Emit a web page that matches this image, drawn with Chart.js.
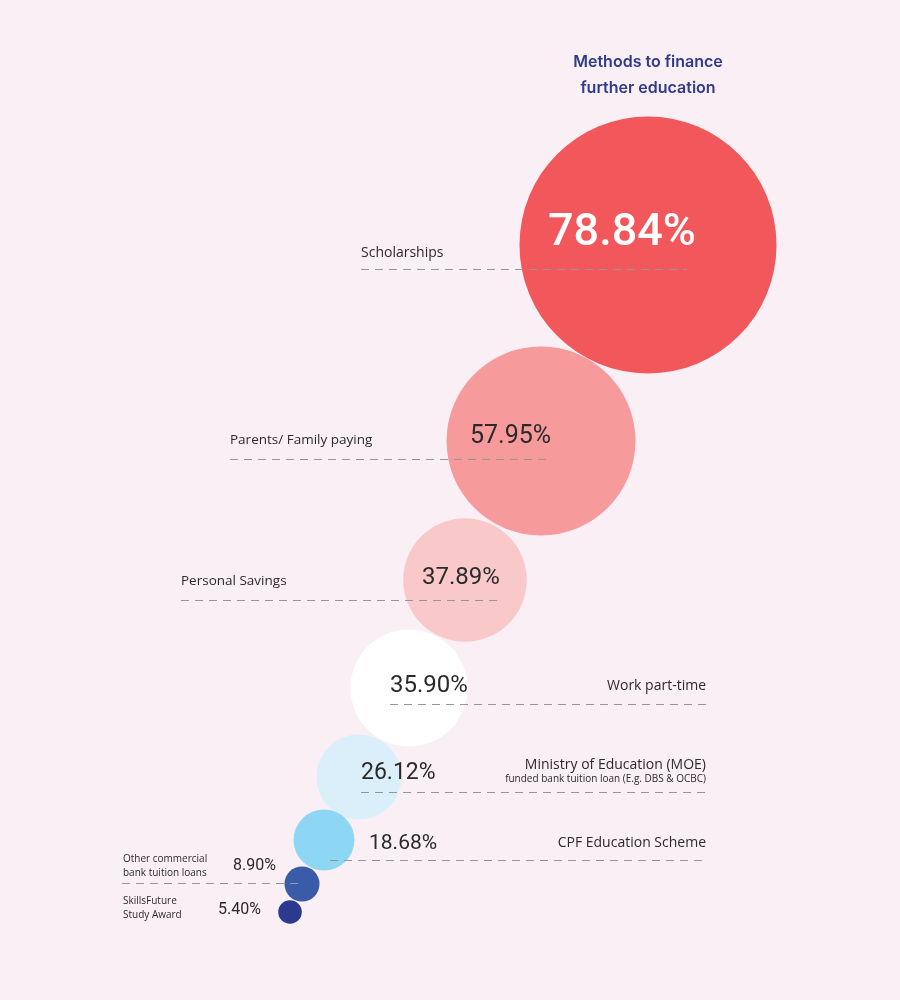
<!DOCTYPE html>
<html>
<head>
<meta charset="utf-8">
<script src="https://cdn.jsdelivr.net/npm/chart.js@4.4.1/dist/chart.umd.min.js"></script>
<style>
  html, body { margin: 0; padding: 0; background: #f9eff4; }
  #wrap { width: 900px; height: 1000px; position: relative; }
</style>
</head>
<body>
<div id="wrap"><canvas id="financeBubbles" width="900" height="1000"></canvas></div>
<script>
// data
const categories = [
  'Scholarships',
  'Parents/ Family paying',
  'Personal Savings',
  'Work part-time',
  'Ministry of Education (MOE) funded bank tuition loan (E.g. DBS & OCBC)',
  'CPF Education Scheme',
  'Other commercial bank tuition loans',
  'SkillsFuture Study Award'
];
const shares = [78.84, 57.95, 37.89, 35.90, 26.12, 18.68, 8.90, 5.40];
// bubble centres in layout units (x: 0-90, y: 0-100 from top)
const xPos = [64.8, 54.1, 46.5, 40.9, 35.9, 32.4, 30.2, 29.0];
const yPos = [24.5, 44.1, 58.0, 68.8, 77.7, 84.0, 88.4, 91.2];
const titleLines = ['Methods to finance', 'further education'];

const colours = ['#f2585b', '#f69a9c', '#f9c9ca', '#ffffff', '#dbeffa', '#8dd7f5', '#3a5ca8', '#2b3a8f'];

// label text, leader lines and percent text placement (layout units)
const labelLines = [
  [['Scholarships', 14]],
  [['Parents/ Family paying', 13.5]],
  [['Personal Savings', 13.5]],
  [['Work part-time', 14]],
  [['Ministry of Education (MOE)', 14], ['funded bank tuition loan (E.g. DBS & OCBC)', 10]],
  [['CPF Education Scheme', 14]],
  [['Other commercial', 10], ['bank tuition loans', 10]],
  [['SkillsFuture', 10], ['Study Award', 10]]
];
const layout = [
  { lx: 36.1, ly: 25.3, align: 'left',  line: [26.9, 36.1, 68.7], px: 54.8, py: 23.4, size: 45, colour: '#ffffff', weight: 500 },
  { lx: 23.0, ly: 44.0, align: 'left',  line: [45.9, 23.0, 54.9], px: 47.0, py: 43.7, size: 25, colour: '#2a2a2a', weight: 400 },
  { lx: 18.1, ly: 58.1, align: 'left',  line: [60.0, 18.1, 49.7], px: 42.2, py: 57.8, size: 24, colour: '#2a2a2a', weight: 400 },
  { lx: 70.6, ly: 68.6, align: 'right', line: [70.4, 39.0, 70.7], px: 39.0, py: 68.6, size: 24, colour: '#2a2a2a', weight: 400 },
  { lx: 70.6, ly: 76.5, align: 'right', line: [79.2, 36.1, 70.7], px: 36.1, py: 77.3, size: 23, colour: '#2a2a2a', weight: 400 },
  { lx: 70.6, ly: 84.3, align: 'right', line: [86.0, 33.0, 70.7], px: 36.9, py: 84.4, size: 21, colour: '#2a2a2a', weight: 400 },
  { lx: 12.3, ly: 85.9, align: 'left',  line: [88.3, 12.2, 30.2], px: 23.3, py: 86.6, size: 16, colour: '#2a2a2a', weight: 400 },
  { lx: 12.3, ly: 90.1, align: 'left',  line: null,               px: 21.8, py: 91.0, size: 16, colour: '#2a2a2a', weight: 400 }
];

function bubbleRadius(v) {
  return 1.63 * v + (v < 10 ? 3 : 0);
}

const overlayPlugin = {
  id: 'overlay',
  afterDatasetsDraw(chart) {
    const { ctx, scales: { x, y } } = chart;
    ctx.save();
    // title
    ctx.fillStyle = '#2e3a8a';
    ctx.font = '600 16px Inter, "Open Sans", sans-serif';
    ctx.textAlign = 'center';
    ctx.textBaseline = 'middle';
    ctx.fillText(titleLines[0], x.getPixelForValue(64.8), y.getPixelForValue(6.2));
    ctx.fillText(titleLines[1], x.getPixelForValue(64.8), y.getPixelForValue(8.8));

    layout.forEach((l, i) => {
      // leader line
      if (l.line) {
        const ly = Math.round(y.getPixelForValue(l.line[0])) + 0.5;
        ctx.strokeStyle = '#969696';
        ctx.lineWidth = 1;
        ctx.setLineDash([8, 6]);
        ctx.beginPath();
        ctx.moveTo(x.getPixelForValue(l.line[1]), ly);
        ctx.lineTo(x.getPixelForValue(l.line[2]), ly);
        ctx.stroke();
        ctx.setLineDash([]);
      }
      // category label
      ctx.fillStyle = '#2b2b2b';
      ctx.textAlign = l.align;
      ctx.textBaseline = 'middle';
      let ty = y.getPixelForValue(l.ly);
      labelLines[i].forEach(([txt, size], j) => {
        ctx.font = size + 'px "Open Sans", sans-serif';
        if (j > 0) ty += size < 11 ? 14 : 13;
        ctx.fillText(txt, x.getPixelForValue(l.lx), ty);
      });
      // percentage
      ctx.fillStyle = l.colour;
      ctx.textAlign = 'left';
      ctx.font = l.weight + ' ' + l.size + 'px Roboto, sans-serif';
      ctx.fillText(shares[i].toFixed(2) + '%', x.getPixelForValue(l.px), y.getPixelForValue(l.py));
    });
    ctx.restore();
  }
};

new Chart(document.getElementById('financeBubbles').getContext('2d'), {
  type: 'bubble',
  data: {
    labels: categories,
    datasets: [{
      data: shares.map((v, i) => ({ x: xPos[i], y: yPos[i], r: bubbleRadius(v) })),
      backgroundColor: colours,
      borderWidth: 0,
      hoverRadius: 0,
      clip: false
    }]
  },
  options: {
    responsive: false,
    animation: false,
    events: [],
    layout: { padding: 0, autoPadding: false },
    plugins: { legend: { display: false }, tooltip: { enabled: false } },
    scales: {
      x: { type: 'linear', min: 0, max: 90, display: false },
      y: { type: 'linear', min: 0, max: 100, reverse: true, display: false }
    }
  },
  plugins: [overlayPlugin]
});
</script>
</body>
</html>
